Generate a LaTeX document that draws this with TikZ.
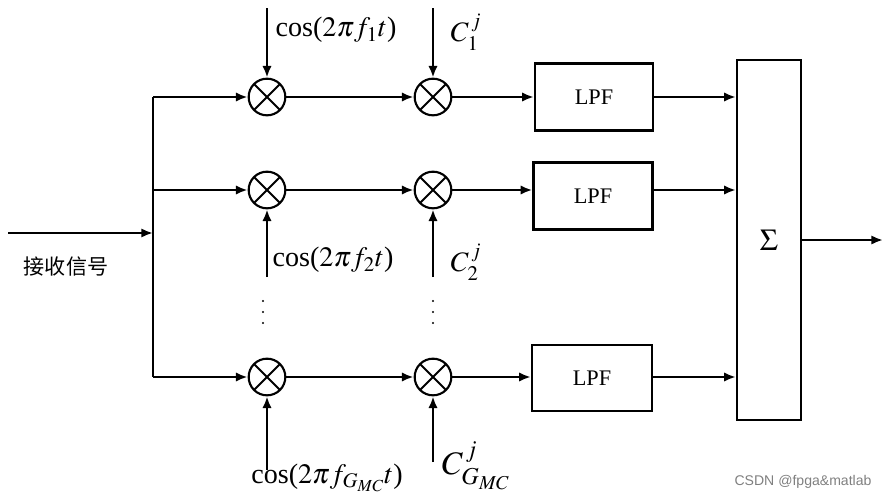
\documentclass[tikz,border=0pt]{standalone}
\usepackage{mathptmx}
\usepackage{fontspec}
\setmainfont{Liberation Serif}
\newfontfamily\cjk{Noto Sans CJK SC}
\newfontfamily\wm{Liberation Sans}
\usetikzlibrary{arrows.meta}
\begin{document}
\begin{tikzpicture}[x=0.03cm,y=-0.03cm,
  ln/.style={line width=2pt,-{Latex[length=10pt,width=8pt]}},
  mix/.style={circle,draw,line width=1.8pt,minimum size=1.1cm,inner sep=0pt,path picture={\draw[line width=1.6pt] (path picture bounding box.north west)--(path picture bounding box.south east) (path picture bounding box.north east)--(path picture bounding box.south west);}},
  box/.style={draw,line width=2pt,font=\fontsize{19}{19}\selectfont},
  lab/.style={font=\fontsize{24}{24}\selectfont}]
\useasboundingbox (0,0) rectangle (895,503);
\coordinate (in) at (8,233);
\coordinate (bj) at (153,233);
\coordinate (b1) at (153,97);
\coordinate (b2) at (153,190);
\coordinate (b3) at (153,377);
\draw[ln] (in) -- (bj);
\draw[line width=2pt] (b1) -- (b3);
\node[font=\cjk\fontsize{18}{18}\selectfont] (rx) at (66,267) {接收信号};
\foreach \i/\y in {1/97,2/190,3/377}{
  \node[mix] (m\i) at (267,\y) {};
  \node[mix] (n\i) at (433,\y) {};
}
\node[box,minimum width=3.54cm,minimum height=2.01cm] (l1) at (594,97) {LPF};
\node[box,minimum width=3.57cm,minimum height=2.01cm] (l2) at (593,196) {LPF};
\node[box,minimum width=3.6cm,minimum height=1.98cm] (l3) at (592,378) {LPF};
\node[draw,line width=2pt,minimum width=1.92cm,minimum height=10.8cm,font=\fontsize{26}{26}\selectfont] (s) at (769,240) {$\Sigma$};
\draw[ln] (b1) -- (m1.west);
\draw[ln] (b2) -- (m2.west);
\draw[ln] (b3) -- (m3.west);
\foreach \i in {1,2,3}{
  \draw[ln] (m\i) -- (n\i);
}
\draw[ln] (n1) -- (l1.west|-n1);
\draw[ln] (n2) -- (l2.west|-n2);
\draw[ln] (n3) -- (l3.west|-n3);
\draw[ln] (l1.east|-n1) -- (s.west|-n1);
\draw[ln] (l2.east|-n2) -- (s.west|-n2);
\draw[ln] (l3.east|-n3) -- (s.west|-n3);
\coordinate (out) at (883,240);
\draw[ln] (s.east|-out) -- (out);
\coordinate (t1) at (267,8); \coordinate (u1) at (433,8);
\coordinate (t2) at (267,277); \coordinate (u2) at (433,277);
\coordinate (t3) at (267,470); \coordinate (u3) at (433,462);
\draw[ln] (t1) -- (m1); \draw[ln] (u1) -- (n1);
\draw[ln] (t2) -- (m2); \draw[ln] (u2) -- (n2);
\draw[ln] (t3) -- (m3); \draw[ln] (u3) -- (n3);
\node[lab] (c1) at (336,30) {cos($2\pi f_1 t$)};
\node[lab] (d1) at (466,32) {$C_1^{\,j}$};
\node[lab] (c2) at (333,260) {cos($2\pi f_2 t$)};
\node[lab] (d2) at (466,262) {$C_2^{\,j}$};
\node[lab] (c3) at (327,478) {cos($2\pi f_{G_{MC}} t$)};
\node[lab,font=\fontsize{28}{28}\selectfont] (d3) at (476,466) {$C_{G_{MC}}^{\,j}$};
\foreach \x in {263,433}{
  \foreach \y in {301,312,323}{ \fill (\x,\y) circle (0.9pt); }
}
\node[text=gray,font=\wm\fontsize{12}{12}\selectfont] (wm) at (803,482) {CSDN @fpga\&matlab};
\end{tikzpicture}
\end{document}
